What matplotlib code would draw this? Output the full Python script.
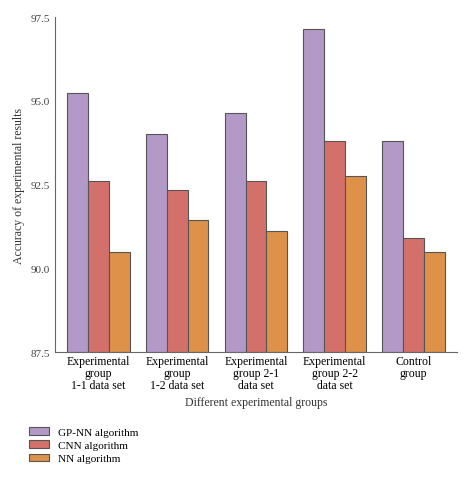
import numpy as np
import matplotlib
matplotlib.use('Agg')
import matplotlib.pyplot as plt

groups = ['Experimental\ngroup\n1-1 data set', 'Experimental\ngroup\n1-2 data set',
          'Experimental\ngroup 2-1\ndata set', 'Experimental\ngroup 2-2\ndata set',
          'Control\ngroup']
gp_nn = [95.23, 94.0, 94.65, 97.15, 93.8]
cnn = [92.6, 92.33, 92.6, 93.8, 90.9]
nn = [90.5, 91.45, 91.1, 92.75, 90.5]
series = ['GP-NN algorithm', 'CNN algorithm', 'NN algorithm']
colors = ['#b399c7', '#d4706a', '#dd9149']

plt.rcParams['font.family'] = ['Liberation Serif', 'DejaVu Serif']
fig = plt.figure(figsize=(4.74, 4.89), dpi=100)
ax = fig.add_axes([0.116, 0.278, 0.848, 0.685])

x = np.arange(len(groups))
w = 0.265
for i, (vals, lab, c) in enumerate(zip([gp_nn, cnn, nn], series, colors)):
    ax.bar(x + (i - 1) * w, np.array(vals) - 87.5, w, bottom=87.5, color=c,
           edgecolor='#555555', linewidth=0.8, label=lab)

ax.set_ylim(87.5, 97.5)
ax.set_xlim(-0.55, 4.55)
ax.set_yticks([87.5, 90.0, 92.5, 95.0, 97.5])
ax.set_yticklabels(['87.5', '90.0', '92.5', '95.0', '97.5'])
ax.set_xticks(x)
ax.set_xticklabels(groups, fontsize=8.5, linespacing=1.0)
ax.tick_params(axis='y', labelsize=8, length=0, colors='#444444')
ax.tick_params(axis='x', length=0, pad=2)
for s in ['top', 'right']:
    ax.spines[s].set_visible(False)
for s in ['left', 'bottom']:
    ax.spines[s].set_color('#666666')
ax.set_ylabel('Accuracy of experimental results', fontsize=8.5, color='#333333')
ax.set_xlabel('Different experimental groups', fontsize=8.5, color='#333333', labelpad=4)

fig.legend(loc='lower left', bbox_to_anchor=(0.04, 0.03), frameon=False,
           fontsize=8, handlelength=1.8, handleheight=0.7, labelspacing=0.3)

fig.savefig('out.png', dpi=100)
